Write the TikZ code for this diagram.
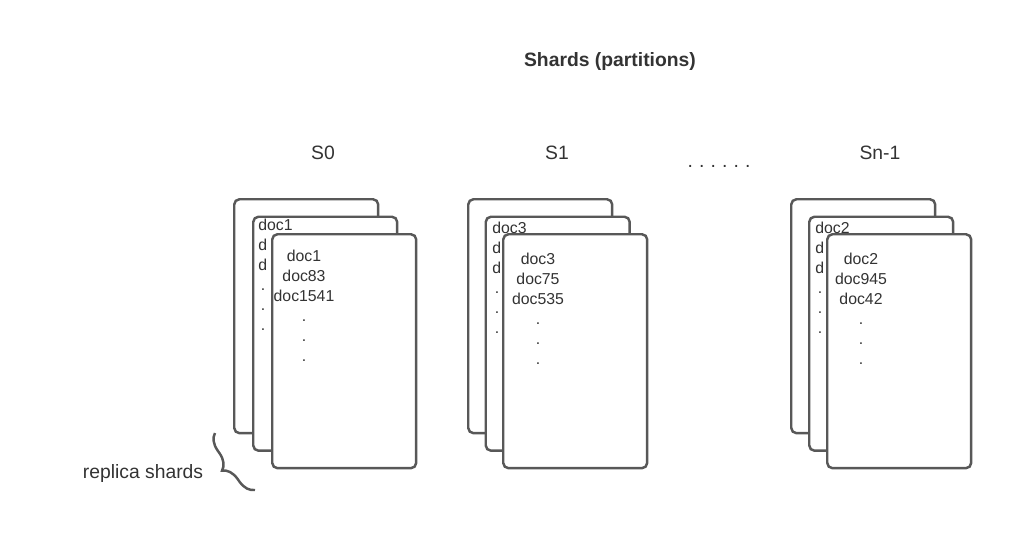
\documentclass[tikz,border=0pt]{standalone}
\usepackage{fontspec}
\setmainfont{Liberation Sans}
\usepackage{tikz}
\usetikzlibrary{decorations.pathreplacing}

\definecolor{trait}{HTML}{585858}
\definecolor{texte}{HTML}{333333}

\tikzset{
  carte/.style={draw=trait, line width=1.4pt, rounded corners=3pt, fill=white,
    minimum width=2.88cm, minimum height=4.68cm, anchor=north west, inner sep=0pt},
  liste/.style={text=texte, font=\fontsize{9}{11.3}\selectfont, inner sep=0pt},
  etiquette/.style={text=texte, font=\fontsize{11}{13}\selectfont}
}

\begin{document}
\begin{tikzpicture}[x=0.02cm, y=-0.02cm]
  \useasboundingbox (0,0) rectangle (1024,545);

  \node[etiquette, font=\fontsize{11}{13}\selectfont\bfseries] (titre) at (610,61) {Shards (partitions)};

  \foreach \x/\dx/\dy/\nom/\titre/\a/\b/\c in {233/19/0/s0/S0/doc1/doc83/doc1541, 467/17.5/3/s1/S1/doc3/doc75/doc535, 790/18/3/sn/Sn-1/doc2/doc945/doc42} {
    \node[etiquette] (titre\nom) at (\x+90,153) {\titre};

    \node[carte] (arriere\nom) at (\x,198) {};
    \node[carte] (milieu\nom) at (\x+\dx,215.5) {};
    \node[liste, anchor=north west, align=left] (textemilieu\nom) at (\x+25,219+\dy) {\a\\d\\d\\\,.\\\,.\\\,.};
    \node[carte] (avant\nom) at (\x+2*\dx,233) {};
    \node[liste, anchor=north, align=center] (texteavant\nom) at (\x+71,250+\dy) {\a\\\b\\\c\\.\\.\\.};
  }

  \node[etiquette] (points) at (719,166) {.\hspace{3.5pt}.\hspace{3.5pt}.\hspace{3.5pt}.\hspace{3.5pt}.\hspace{3.5pt}.};

  % accolade des repliques
  \coordinate (accbas) at (255,490);
  \coordinate (acchaut) at (215,433);
  \draw[trait, line width=1.4pt, decorate, decoration={brace, amplitude=9pt}] (accbas) -- (acchaut);
  \node[etiquette] (repliques) at (143,473) {replica shards};
\end{tikzpicture}
\end{document}
